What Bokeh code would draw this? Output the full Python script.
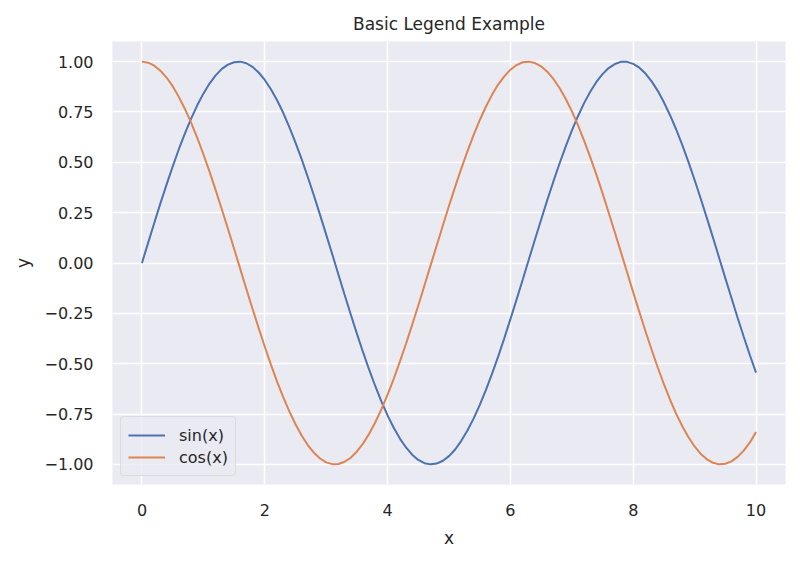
from bokeh.plotting import figure
from bokeh.models import FixedTicker, Range1d, Legend, LegendItem
from bokeh.embed import file_html
from bokeh.resources import INLINE

x_vals = [i / 10 for i in range(101)]
sin_vals = [0.000, 0.100, 0.199, 0.296, 0.389, 0.479, 0.565, 0.644, 0.717, 0.783,
            0.841, 0.891, 0.932, 0.964, 0.985, 0.997, 1.000, 0.992, 0.974, 0.946,
            0.909, 0.863, 0.808, 0.746, 0.675, 0.598, 0.516, 0.427, 0.335, 0.239,
            0.141, 0.042, -0.058, -0.158, -0.256, -0.351, -0.443, -0.530, -0.612, -0.688,
            -0.757, -0.818, -0.872, -0.916, -0.952, -0.978, -0.994, -1.000, -0.996, -0.982,
            -0.959, -0.926, -0.883, -0.832, -0.773, -0.706, -0.631, -0.551, -0.465, -0.374,
            -0.279, -0.182, -0.083, 0.017, 0.117, 0.215, 0.312, 0.405, 0.494, 0.578,
            0.657, 0.729, 0.794, 0.850, 0.899, 0.938, 0.968, 0.988, 0.999, 0.999,
            0.989, 0.970, 0.941, 0.902, 0.855, 0.798, 0.734, 0.663, 0.585, 0.501,
            0.412, 0.319, 0.223, 0.125, 0.025, -0.075, -0.174, -0.272, -0.366, -0.458,
            -0.544]
cos_vals = [1.000, 0.995, 0.980, 0.955, 0.921, 0.878, 0.825, 0.765, 0.697, 0.622,
            0.540, 0.454, 0.362, 0.267, 0.170, 0.071, -0.029, -0.129, -0.227, -0.323,
            -0.416, -0.505, -0.589, -0.666, -0.737, -0.801, -0.857, -0.904, -0.942, -0.971,
            -0.990, -0.999, -0.998, -0.987, -0.967, -0.936, -0.897, -0.848, -0.791, -0.726,
            -0.654, -0.575, -0.490, -0.401, -0.307, -0.211, -0.112, -0.012, 0.087, 0.186,
            0.284, 0.378, 0.469, 0.554, 0.635, 0.709, 0.776, 0.835, 0.886, 0.927,
            0.960, 0.983, 0.997, 1.000, 0.993, 0.977, 0.950, 0.914, 0.869, 0.816,
            0.754, 0.685, 0.608, 0.526, 0.439, 0.347, 0.251, 0.153, 0.054, -0.046,
            -0.146, -0.243, -0.339, -0.431, -0.519, -0.602, -0.679, -0.749, -0.811, -0.865,
            -0.911, -0.948, -0.975, -0.992, -1.000, -0.997, -0.985, -0.963, -0.932, -0.891,
            -0.839]
x_ticks = [0, 2, 4, 6, 8, 10]
y_ticks = [-1.0, -0.75, -0.5, -0.25, 0.0, 0.25, 0.5, 0.75, 1.0]
series_labels = ["sin(x)", "cos(x)"]

FONT = "DejaVu Sans"
TXT = "#262626"

p = figure(frame_width=673, frame_height=443, output_backend="svg", toolbar_location=None,
           x_range=Range1d(-0.48, 10.48), y_range=Range1d(-1.1, 1.1),
           title="Basic Legend Example", min_border_left=112, min_border_right=1,
           min_border_top=41, min_border_bottom=64)
p.background_fill_color = "#eaeaf2"
p.border_fill_color = "white"
p.outline_line_color = None
p.title.align = "center"
p.title.text_font = FONT
p.title.text_font_size = "17px"
p.title.text_font_style = "normal"
p.title.text_color = TXT
p.title.standoff = 16

r1 = p.line(x_vals, sin_vals, line_color="#4c72b0", line_width=2)
r2 = p.line(x_vals, cos_vals, line_color="#dd8452", line_width=2)

p.xaxis.ticker = FixedTicker(ticks=x_ticks)
p.yaxis.ticker = FixedTicker(ticks=y_ticks)
p.yaxis.major_label_overrides = {t: ("%.2f" % t).replace("-", "\u2212") for t in y_ticks}
p.xaxis.axis_label = "x"
p.yaxis.axis_label = "y"
for ax in (p.xaxis[0], p.yaxis[0]):
    ax.axis_line_color = None
    ax.major_tick_line_color = None
    ax.minor_tick_line_color = None
    ax.major_tick_out = 0
    ax.major_tick_in = 0
    ax.major_label_text_font = FONT
    ax.major_label_text_font_size = "16px"
    ax.major_label_text_color = TXT
    ax.axis_label_text_font = FONT
    ax.axis_label_text_font_size = "17px"
    ax.axis_label_text_font_style = "normal"
    ax.axis_label_text_color = TXT
p.yaxis.major_label_standoff = 19
p.xaxis.major_label_standoff = 19
p.xaxis.axis_label_standoff = 9
p.yaxis.axis_label_standoff = 8

p.grid.grid_line_color = "white"
p.grid.grid_line_width = 1.5

legend = Legend(items=[LegendItem(label=series_labels[0], renderers=[r1]),
                       LegendItem(label=series_labels[1], renderers=[r2])],
                location="bottom_left")
legend.background_fill_color = "#eaeaf2"
legend.background_fill_alpha = 0.8
legend.border_line_color = "#cccccc"
legend.border_radius = 4
legend.label_text_font = FONT
legend.label_text_font_size = "16px"
legend.label_text_color = TXT
legend.glyph_width = 37
legend.glyph_height = 22
legend.label_height = 22
legend.label_standoff = 14
legend.spacing = 0
legend.padding = 7
legend.margin = 8
p.add_layout(legend)

open("out.html", "w").write(file_html(p, INLINE))
